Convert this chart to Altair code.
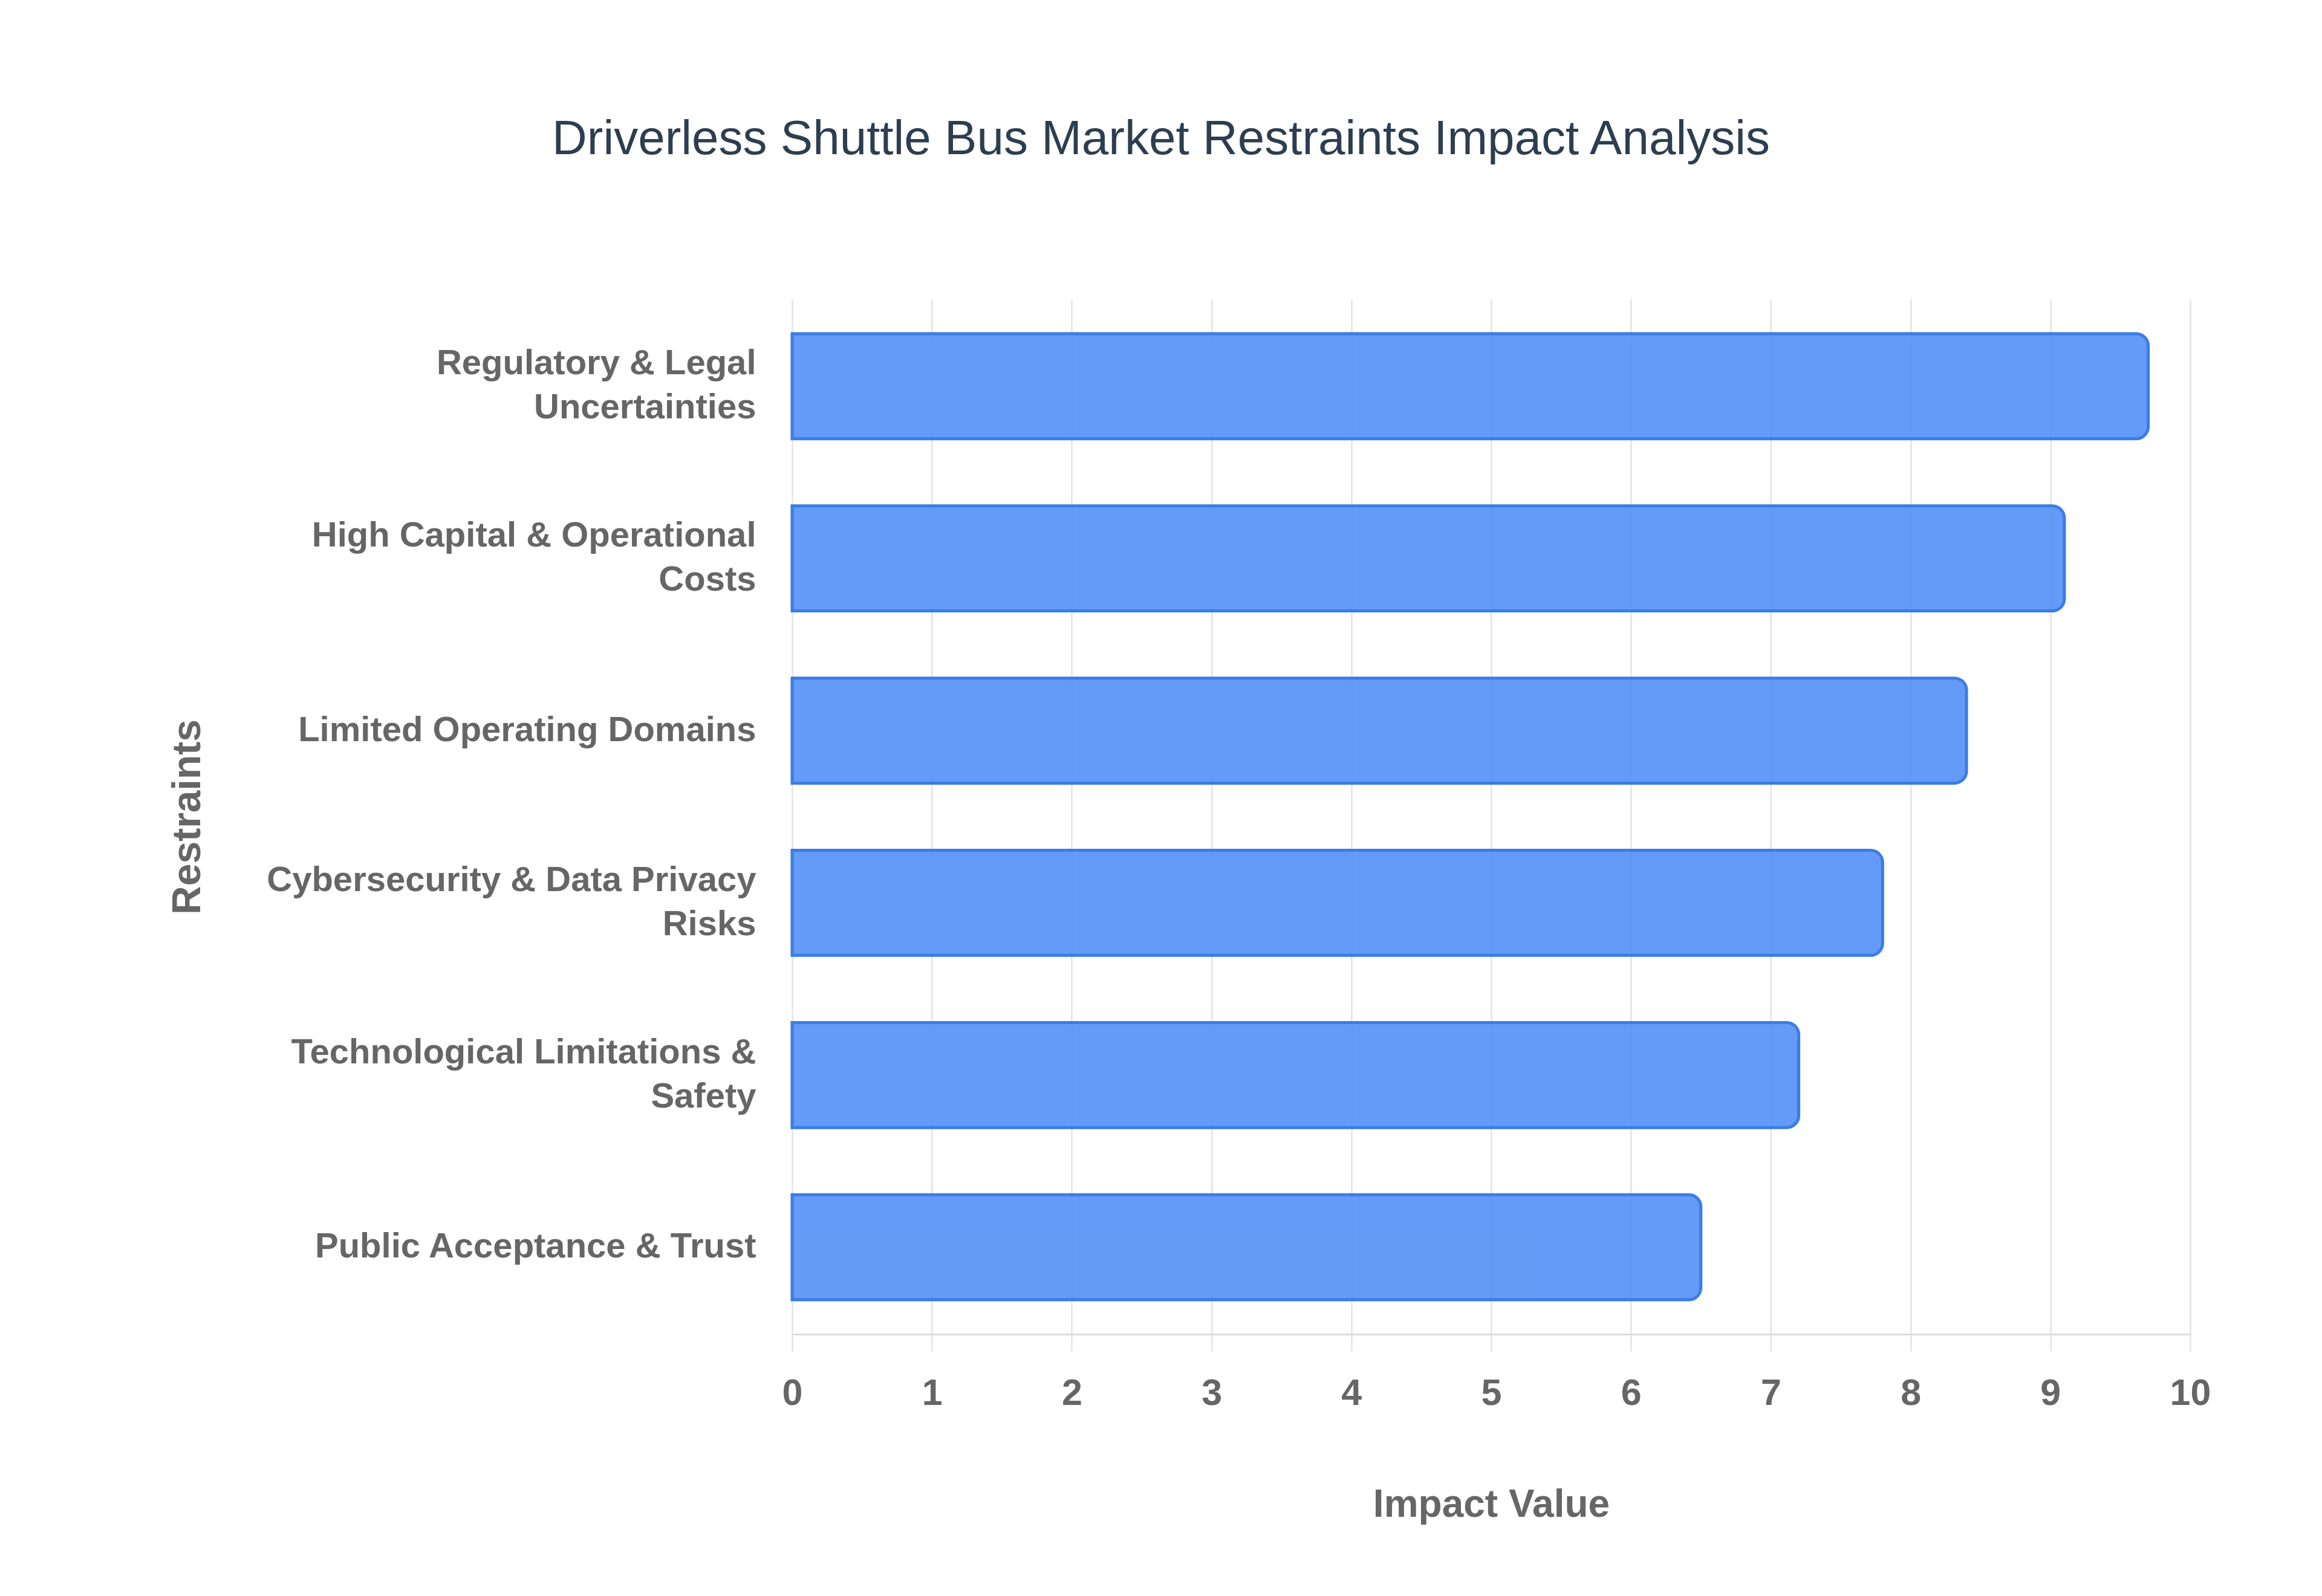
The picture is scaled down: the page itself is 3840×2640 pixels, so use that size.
import altair as alt
import pandas as pd

restraints = [
    "Regulatory & Legal Uncertainties",
    "High Capital & Operational Costs",
    "Limited Operating Domains",
    "Cybersecurity & Data Privacy Risks",
    "Technological Limitations & Safety",
    "Public Acceptance & Trust",
]
impact = [9.7, 9.1, 8.4, 7.8, 7.2, 6.5]
label_lines = [
    ["Regulatory & Legal", "Uncertainties"],
    ["High Capital & Operational", "Costs"],
    ["Limited Operating Domains"],
    ["Cybersecurity & Data Privacy", "Risks"],
    ["Technological Limitations &", "Safety"],
    ["Public Acceptance & Trust"],
]
x_ticks = [0, 1, 2, 3, 4, 5, 6, 7, 8, 9, 10]

df = pd.DataFrame({"Restraint": restraints, "Impact": impact})


def js_list(lines):
    return "[" + ", ".join("'" + s + "'" for s in lines) + "]"


expr = "datum.label"
for name, lines in reversed(list(zip(restraints, label_lines))):
    expr = f"datum.label == '{name}' ? {js_list(lines)} : ({expr})"

two_line = [n for n, l in zip(restraints, label_lines) if len(l) > 1]
two_line_test = "indexof(" + js_list(two_line) + ", datum.value) >= 0"

FONT = "Liberation Sans"
GRAY = "#666666"
GRID = "#e3e3e3"
LINE_H = 73

W, H = 2312, 1712

bars = alt.Chart(df).mark_bar(
    color="#4f8ef7",
    opacity=0.88,
    stroke="#3b7de6",
    strokeWidth=5,
    cornerRadiusEnd=20,
).encode(
    x=alt.X(
        "Impact:Q",
        scale=alt.Scale(domain=[0, 10], nice=False),
        axis=alt.Axis(
            values=x_ticks,
            title="Impact Value",
            grid=True,
            gridColor=GRID,
            gridWidth=2.5,
            domain=True,
            domainColor="#dcdcdc",
            domainWidth=3,
            ticks=True,
            tickColor=GRID,
            tickWidth=2.5,
            tickSize=28,
            labelFlush=False,
            labelFont=FONT,
            labelFontSize=61,
            labelFontWeight="bold",
            labelColor=GRAY,
            labelPadding=40,
            titleFont=FONT,
            titleFontSize=64,
            titleFontWeight="bold",
            titleColor=GRAY,
            titleX=W / 2,
            titleY=301,
            titleAlign="center",
            titleBaseline="alphabetic",
        ),
    ),
    y=alt.Y(
        "Restraint:N",
        sort=restraints,
        scale=alt.Scale(paddingInner=0.39, paddingOuter=0.2),
        axis=alt.Axis(
            title="Restraints",
            grid=False,
            domain=False,
            ticks=False,
            labelExpr=expr,
            labelFont=FONT,
            labelFontSize=58,
            labelFontWeight="bold",
            labelColor=GRAY,
            labelPadding=60,
            labelLineHeight=LINE_H,
            labelLimit=1200,
            labelOffset={"condition": {"test": two_line_test, "value": -LINE_H / 2}, "value": 0},
            titleFont=FONT,
            titleFontSize=66,
            titleFontWeight="bold",
            titleColor=GRAY,
            titleAngle=270,
            titleX=-980,
            titleY=H / 2,
            titleAlign="center",
            titleBaseline="alphabetic",
        ),
    ),
)

chart = bars.properties(
    width=W,
    height=H,
    background="white",
    padding={"left": 1302, "top": 487, "right": 210, "bottom": 425},
    autosize=alt.AutoSizeParams(type="none"),
    title=alt.TitleParams(
        text="Driverless Shuttle Bus Market Restraints Impact Analysis",
        font=FONT,
        fontSize=80,
        fontWeight="normal",
        color="#2c3e50",
        anchor="middle",
        frame="group",
        dx=-546,
        offset=160,
        baseline="alphabetic",
    ),
).configure_view(stroke=None)

chart.save("out.html", embed_options={"renderer": "svg", "actions": False})
